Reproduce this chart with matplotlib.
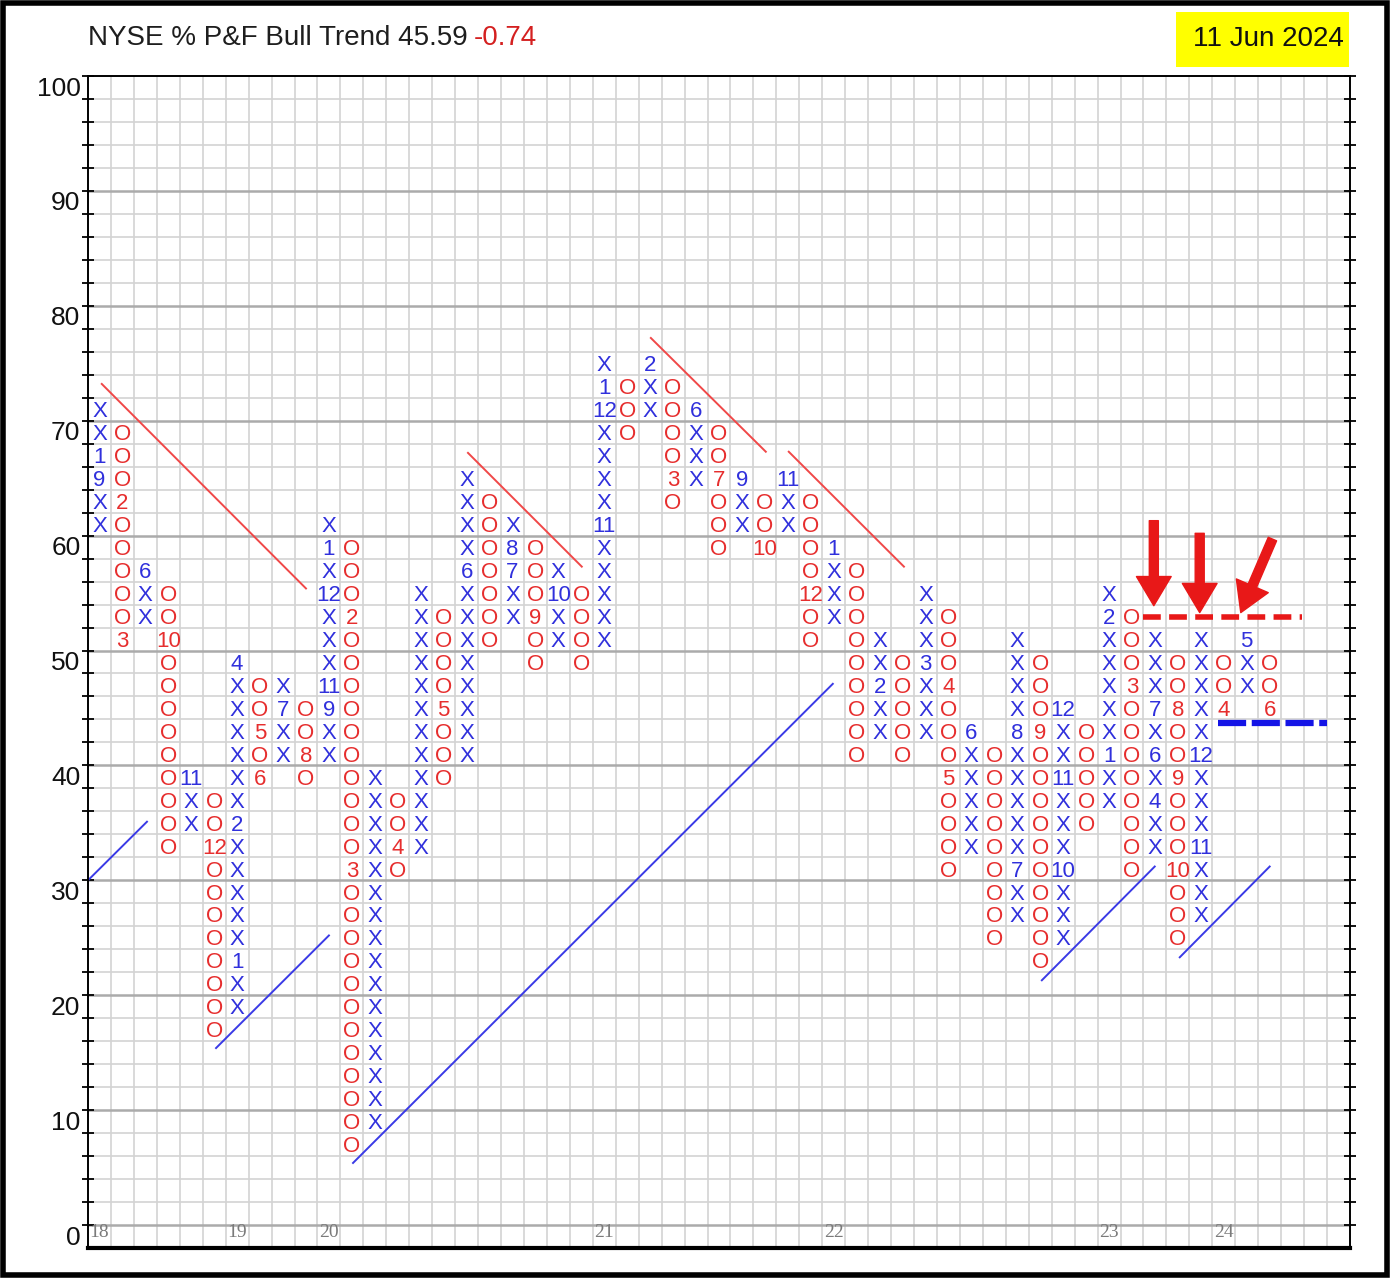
import matplotlib.pyplot as plt
from matplotlib.patches import Rectangle, FancyArrowPatch

# point & figure columns, box size 2; even columns are X, odd columns are O
# values are the bottom of each box
col_low = [60, 50, 52, 32, 34, 16, 18, 38, 40, 38, 40, 6, 8, 30, 32, 38, 40, 50, 52, 48,
           50, 48, 50, 68, 70, 62, 64, 58, 60, 58, 60, 50, 52, 40, 42, 40, 42, 30, 32, 24,
           26, 22, 24, 34, 36, 30, 32, 24, 26, 44, 46, 44]
col_high = [70, 68, 56, 54, 38, 36, 48, 46, 46, 44, 60, 58, 38, 36, 54, 52, 64, 62, 60, 58,
            56, 54, 74, 72, 74, 72, 70, 68, 64, 62, 64, 62, 58, 56, 50, 48, 54, 52, 42, 40,
            50, 48, 44, 42, 54, 52, 50, 48, 50, 48, 50, 48]

# month numbers written in place of a box: (column, box, month)
month_marks = [
    (0, 66, "1"), (0, 64, "9"), (1, 62, "2"), (1, 50, "3"), (2, 56, "6"), (3, 50, "10"),
    (4, 38, "11"), (5, 32, "12"), (6, 22, "1"), (6, 34, "2"), (6, 48, "4"), (7, 42, "5"),
    (7, 38, "6"), (8, 44, "7"), (9, 40, "8"), (10, 44, "9"), (10, 46, "11"), (10, 54, "12"),
    (10, 58, "1"), (11, 52, "2"), (11, 30, "3"), (13, 32, "4"), (15, 44, "5"), (16, 56, "6"),
    (18, 56, "7"), (18, 58, "8"), (19, 52, "9"), (20, 54, "10"), (22, 60, "11"), (22, 70, "12"),
    (22, 72, "1"), (24, 74, "2"), (25, 64, "3"), (26, 70, "6"), (27, 64, "7"), (28, 64, "9"),
    (29, 58, "10"), (30, 64, "11"), (31, 54, "12"), (32, 58, "1"), (34, 46, "2"), (36, 48, "3"),
    (37, 46, "4"), (37, 38, "5"), (38, 42, "6"), (40, 30, "7"), (40, 42, "8"), (41, 42, "9"),
    (42, 30, "10"), (42, 38, "11"), (42, 44, "12"), (44, 40, "1"), (44, 52, "2"), (45, 46, "3"),
    (46, 36, "4"), (46, 40, "6"), (46, 44, "7"), (47, 44, "8"), (47, 38, "9"), (47, 30, "10"),
    (48, 32, "11"), (48, 40, "12"), (49, 44, "4"), (50, 50, "5"), (51, 44, "6"),
]

year_cols = [0, 6, 10, 22, 32, 44, 49]
year_labels = ["18", "19", "20", "21", "22", "23", "24"]
y_labels = list(range(0, 101, 10))

# trend lines, (column, value) end points
bear_lines = [((0.6, 73.2), (9.5, 55.4)), ((16.56, 67.2), (21.52, 57.3)),
              ((24.53, 77.2), (29.54, 67.3)), ((30.54, 67.3), (35.56, 57.3))]
bull_lines = [((0.0, 30.0), (2.57, 35.1)), ((5.58, 15.4), (10.5, 25.2)),
              ((11.55, 5.4), (32.46, 47.1)), ((41.57, 21.3), (46.49, 31.2)),
              ((47.58, 23.3), (51.5, 31.2))]

# hand drawn marks: arrows (tail, tip) and the two dashed levels
arrows = [((46.45, 61.3), (46.45, 53.9)), ((48.45, 60.2), (48.45, 53.3)),
          ((51.62, 59.7), (50.24, 53.3))]
red_level = ((46.0, 52.9), (52.9, 52.9))
blue_level = ((49.24, 43.7), (53.99, 43.7))

BLUE = "#3030dc"
RED = "#e62e2e"
SANS = ["Liberation Sans", "DejaVu Sans"]
NARROW = ["Liberation Sans Narrow", "Liberation Sans", "DejaVu Sans"]

fig = plt.figure(figsize=(13.9, 12.78), dpi=100)
ax = fig.add_axes([88 / 1390, 30 / 1278, 1262 / 1390, 1172 / 1278])
ax.set_xlim(0, 55)
ax.set_ylim(-2, 100)

# grid
for c in range(1, 55):
    ax.axvline(c, color="#d3d3d3", lw=1.2, zorder=0)
for v in range(0, 100, 2):
    if v % 10 == 0:
        ax.axhline(v, color="#ababab", lw=1.8, zorder=0.5)
    else:
        ax.axhline(v, color="#d3d3d3", lw=1.2, zorder=0)

marks = {(c, v): m for c, v, m in month_marks}
for c, (lo, hi) in enumerate(zip(col_low, col_high)):
    kind = "X" if c % 2 == 0 else "O"
    color = BLUE if kind == "X" else RED
    for v in range(lo, hi + 1, 2):
        s = marks.get((c, v), kind)
        fam = NARROW if (len(s) > 1 or s == "O") else SANS
        ax.text(c + 0.5, v + 0.33, s, ha="center", va="baseline", fontsize=16,
                color=color, family=fam, zorder=3)

for (x0, y0), (x1, y1) in bear_lines:
    ax.plot([x0, x1], [y0, y1], color="#f04848", lw=1.4, zorder=2)
for (x0, y0), (x1, y1) in bull_lines:
    ax.plot([x0, x1], [y0, y1], color="#3a3ae6", lw=1.4, zorder=2)

(x0, y0), (x1, y1) = red_level
ax.plot([x0, x1], [y0, y1], color="#e81818", lw=4, dashes=(3.2, 1.5), zorder=4)
(x0, y0), (x1, y1) = blue_level
ax.plot([x0, x1], [y0, y1], color="#1414e6", lw=4.5, dashes=(4.5, 0.9), zorder=4)

for tail, tip in arrows:
    ax.add_patch(FancyArrowPatch(tail, tip, arrowstyle="simple,head_width=2.5,head_length=2.1,tail_width=0.65",
                                 mutation_scale=10, color="#e81818", shrinkA=0, shrinkB=0, zorder=5))

# axis labels
ytr = ax.get_yaxis_transform()
for v in y_labels:
    ax.text(-0.006, v - 1.7, str(v), transform=ytr, ha="right", va="baseline",
            fontsize=19, color="#111111", family=SANS)
for c, lab in zip(year_cols, year_labels):
    ax.text(c + 0.5, -0.65, lab, ha="center", va="center", fontsize=14,
            color="#7a7a7a", family=["Liberation Serif", "DejaVu Serif"])

ax.set_xticks([])
ax.set_yticks(range(0, 101, 2))
ax.tick_params(axis="y", which="both", direction="inout", length=9, width=1.3,
               left=True, right=True, labelleft=False)
for sp in ax.spines.values():
    sp.set_linewidth(1.4)
ax.spines["bottom"].set_linewidth(3)

# title and date box
t1 = fig.text(88 / 1390, 1 - 38 / 1278, "NYSE % P&F Bull Trend 45.59", ha="left", va="center",
              fontsize=20, color="#1e1e1e", family=SANS)
ax.annotate("-0.74", xy=(1, 0.5), xycoords=t1, xytext=(4, 0), textcoords="offset points",
            ha="left", va="center", fontsize=20, color="#d42020", family=SANS,
            annotation_clip=False)
fig.add_artist(Rectangle((1176 / 1390, 1 - 67 / 1278), 173 / 1390, 55 / 1278,
                         transform=fig.transFigure, facecolor="#ffff00", edgecolor="none"))
fig.text(1268 / 1390, 1 - 39 / 1278, "11 Jun 2024", ha="center", va="center",
         fontsize=20, color="#111111", family=SANS)

fig.add_artist(Rectangle((0.0018, 0.002), 0.9964, 0.996, transform=fig.transFigure,
                         fill=False, edgecolor="black", lw=4))

fig.savefig("out.png", dpi=100)
